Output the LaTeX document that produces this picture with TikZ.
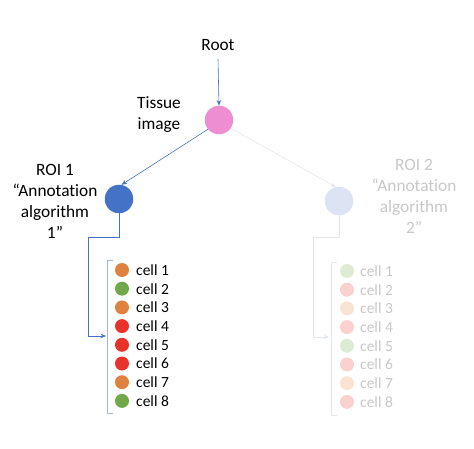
\documentclass[tikz,border=0pt]{standalone}
\usepackage{fontspec}
\setmainfont[Ligatures={NoCommon}]{Carlito}
\usetikzlibrary{arrows.meta}
\definecolor{cblue}{HTML}{4472C4}
\definecolor{cpink}{HTML}{EE8ED2}
\definecolor{clight}{HTML}{DCE3F2}
\definecolor{corange}{HTML}{E0823F}
\definecolor{cgreen}{HTML}{70A84A}
\definecolor{cred}{HTML}{E8332A}
\definecolor{lorange}{HTML}{FAE3D3}
\definecolor{lgreen}{HTML}{DDEBD4}
\definecolor{lred}{HTML}{FBD1CF}
\definecolor{lgrey}{HTML}{C8C8C8}
\definecolor{lline}{HTML}{E4E7EF}
\definecolor{bracketc}{HTML}{A8B7D8}
\tikzset{
  lbl/.style={align=center,font=\fontsize{17.3}{21}\selectfont,inner sep=0pt},
  bignode/.style={circle,minimum size=28.5pt,inner sep=0pt},
  cellnode/.style={circle,minimum size=14pt,inner sep=0pt},
  celltext/.style={anchor=west,inner sep=0pt,font=\fontsize{15.5}{18}\selectfont},
  arr/.style={draw=cblue,line width=0.6pt,-{Stealth[length=5.5pt,width=4.5pt]}},
  farr/.style={draw=lline,line width=0.6pt,-{Stealth[length=5.5pt,width=4.5pt]}},
}
\begin{document}
\begin{tikzpicture}[x=1pt,y=-1pt]
\useasboundingbox (0,0) rectangle (474,449);
% top
\node[lbl] (root) at (218,45) {Root};
\node[bignode,fill=cpink] (tissue) at (219,120) {};
\node[lbl] (tissuelbl) at (159,115) {Tissue\\image};
\draw[arr] (218,59) -- (tissue.north);
% ROI 1
\node[bignode,fill=cblue] (roi1) at (119,199) {};
\node[lbl] (roi1lbl) at (55,201) {ROI 1\\“Annotation\\algorithm\\1”};
\draw[arr] (tissue.220) -- (roi1.80);
% ROI 2
\node[bignode,fill=clight] (roi2) at (339,201) {};
\node[lbl,text=lgrey] (roi2lbl) at (414,196) {ROI 2\\“Annotation\\algorithm\\2”};
\draw[farr] (tissue.-35) -- (roi2.103);
% left bracket and connector
\coordinate (k1) at (88,237);
\coordinate (b1) at (106,336);
\draw[arr] (roi1.south) |- (k1) |- (b1);
\draw[bracketc,line width=0.6pt] (113,260) -- (107,260) -- (107,413) -- (113,413);
% right bracket and connector
\coordinate (k2) at (313,237);
\coordinate (b2) at (329,337);
\draw[farr] (roi2.south) |- (k2) |- (b2);
\draw[lline,line width=0.6pt] (337,262) -- (331,262) -- (331,415) -- (337,415);
% left cells
\foreach \i/\c in {1/corange,2/cgreen,3/corange,4/cred,5/cred,6/cred,7/corange,8/cgreen}{
  \node[cellnode,fill=\c] (lc\i) at (122,{270+18.7*(\i-1)}) {};
  \node[celltext] (lt\i) at (136,{270+18.7*(\i-1)}) {cell \i};
}
% right cells
\foreach \i/\c in {1/lgreen,2/lred,3/lorange,4/lred,5/lgreen,6/lred,7/lorange,8/lred}{
  \node[cellnode,fill=\c] (rc\i) at (347,{271+18.7*(\i-1)}) {};
  \node[celltext,text=lgrey] (rt\i) at (360,{271+18.7*(\i-1)}) {cell \i};
}
\end{tikzpicture}
\end{document}
